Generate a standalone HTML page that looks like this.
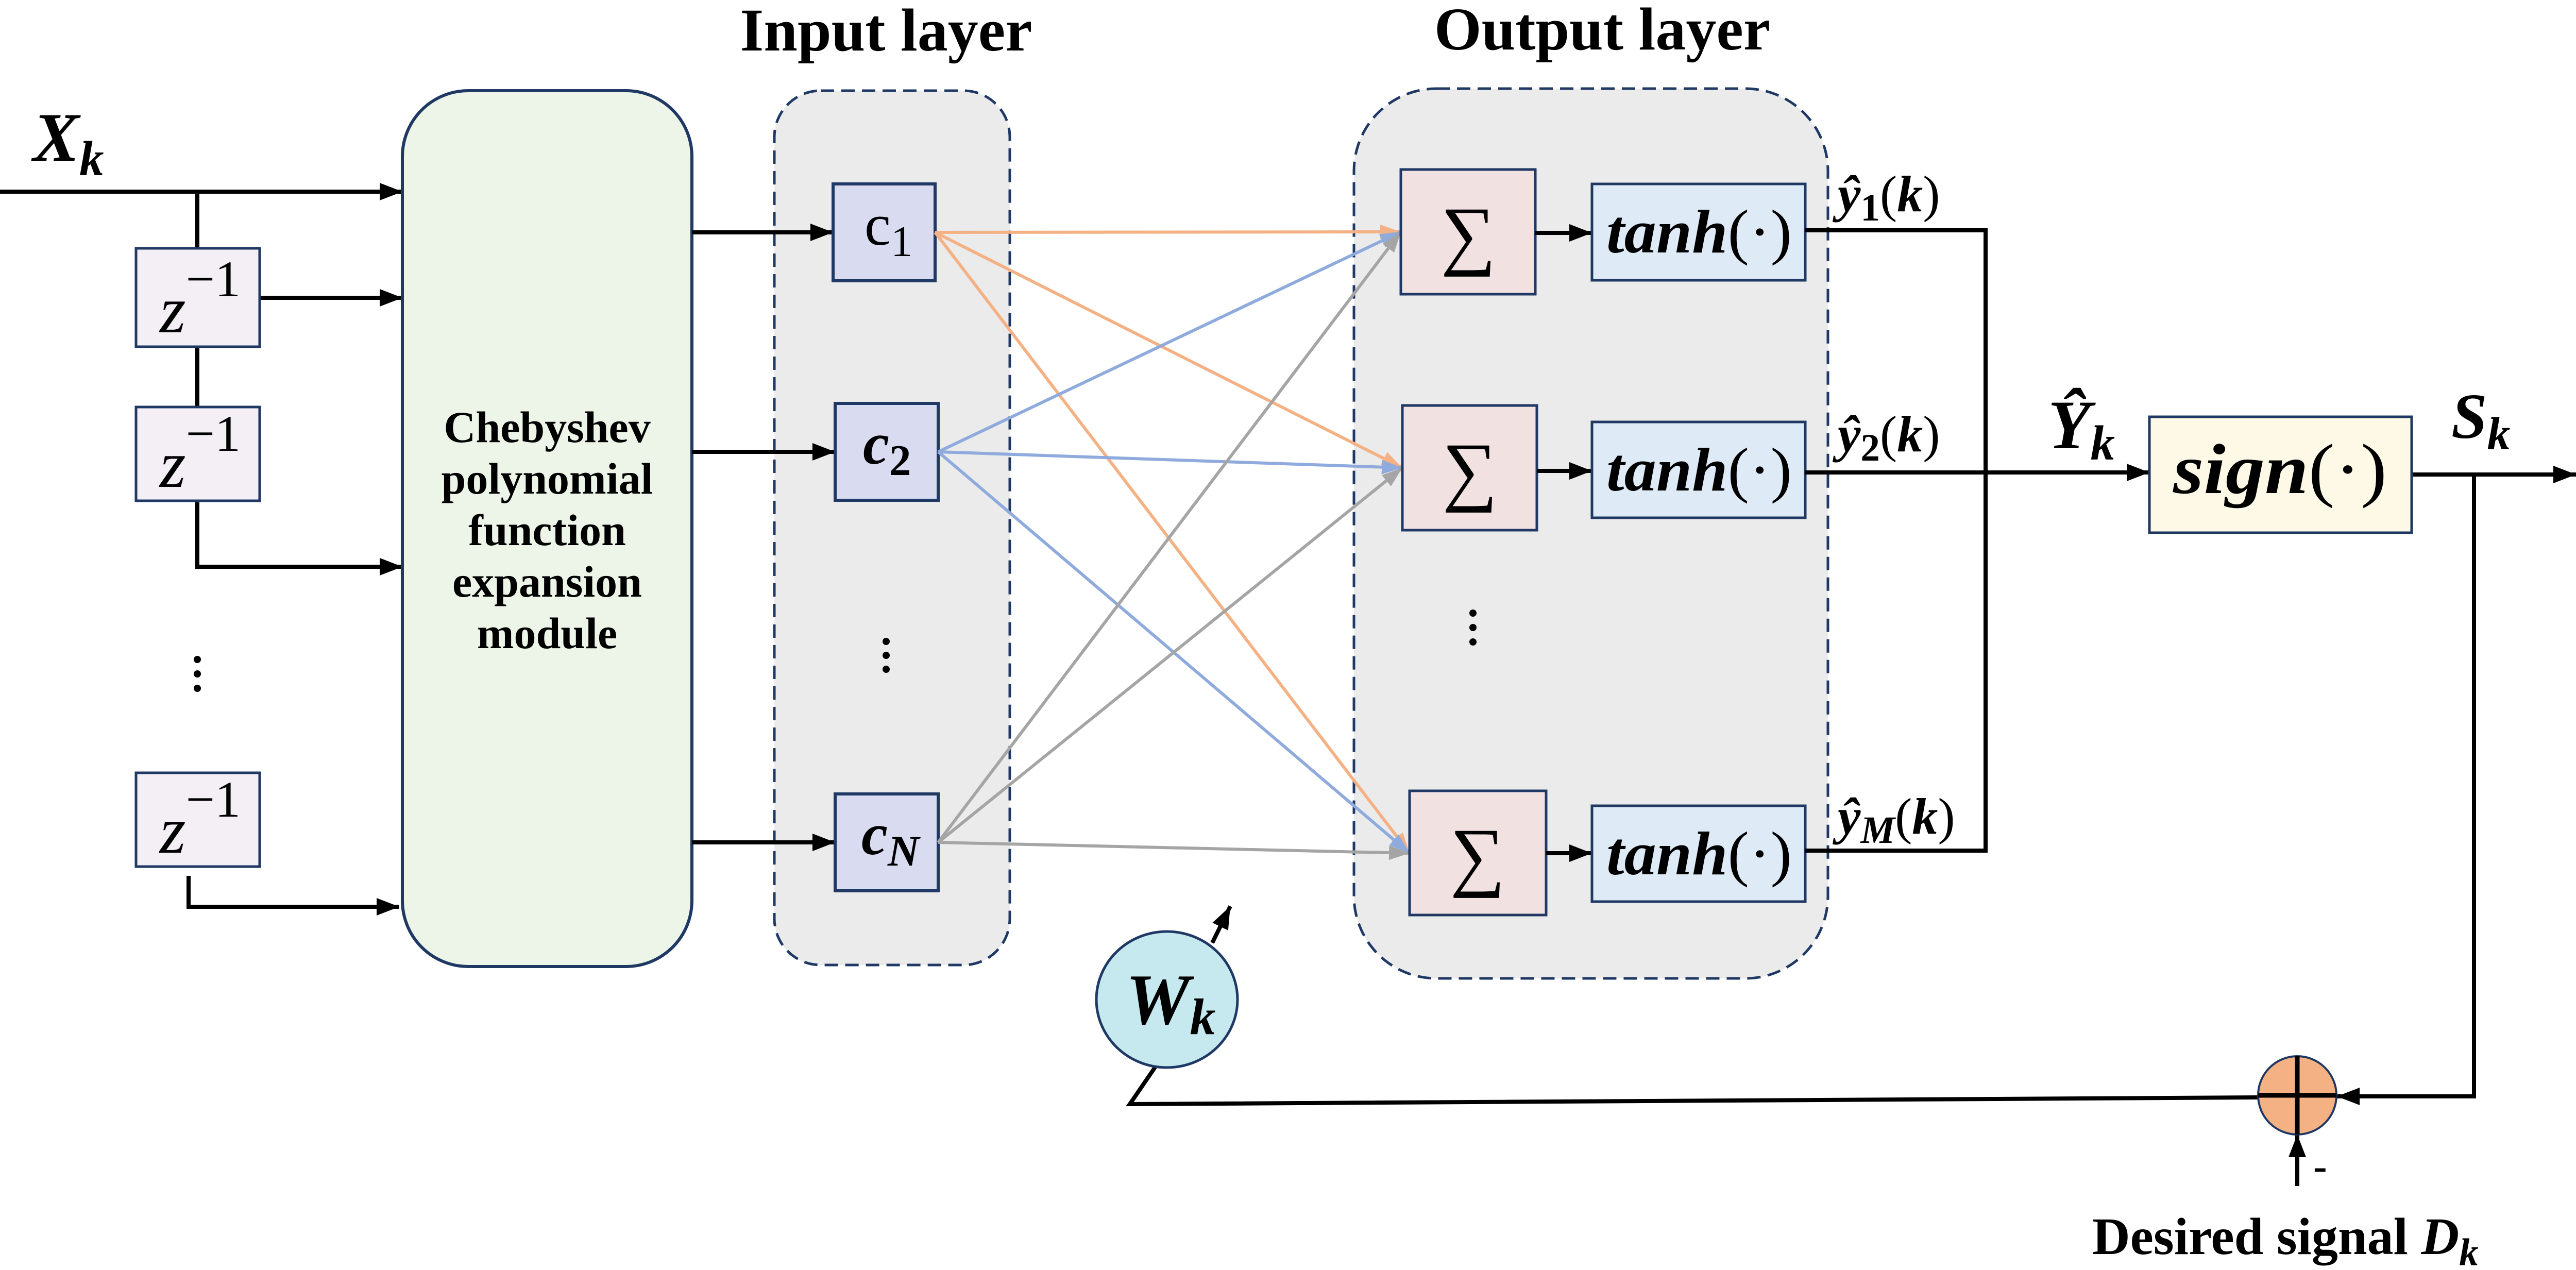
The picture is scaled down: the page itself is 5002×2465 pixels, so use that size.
<!DOCTYPE html>
<html><head><meta charset="utf-8"><style>
html,body{margin:0;padding:0;background:#fff;}
svg{display:block;}
svg text, svg tspan{font-family:"Liberation Serif","DejaVu Serif",serif !important;}
.b{font-weight:bold;}
.bi{font-weight:bold;font-style:italic;}
</style></head><body>
<svg width="5002" height="2465" viewBox="0 0 5002 2465" xmlns="http://www.w3.org/2000/svg" font-family="'Liberation Serif', 'DejaVu Serif', serif">
<defs>
<marker id="ak" markerUnits="userSpaceOnUse" markerWidth="50" markerHeight="40" refX="44" refY="17" orient="auto"><path d="M0,0 L44,17 L0,34 z" fill="#000"/></marker>
<marker id="ao" markerUnits="userSpaceOnUse" markerWidth="50" markerHeight="40" refX="40" refY="14" orient="auto"><path d="M0,0 L40,14 L0,28 z" fill="#f4b183"/></marker>
<marker id="ab" markerUnits="userSpaceOnUse" markerWidth="50" markerHeight="40" refX="40" refY="14" orient="auto"><path d="M0,0 L40,14 L0,28 z" fill="#8faadc"/></marker>
<marker id="ag" markerUnits="userSpaceOnUse" markerWidth="50" markerHeight="40" refX="40" refY="14" orient="auto"><path d="M0,0 L40,14 L0,28 z" fill="#a5a5a5"/></marker>
</defs>

<rect x="1503" y="176" width="457" height="1697" rx="90" fill="#ebebeb" stroke="#1f3864" stroke-width="5" stroke-dasharray="26,14"/>
<rect x="2628" y="172" width="920" height="1727" rx="160" fill="#ebebeb" stroke="#1f3864" stroke-width="5" stroke-dasharray="26,14"/>

<text x="1720" y="98" font-size="118" class="b" text-anchor="middle">Input layer</text>
<text x="3110" y="96" font-size="118" class="b" text-anchor="middle">Output layer</text>

<text x="64" y="312" font-size="135" class="bi">X<tspan font-size="95" dy="28">k</tspan></text>

<g stroke="#000" stroke-width="8" fill="none">
<line x1="0" y1="372" x2="781" y2="372" marker-end="url(#ak)"/>
<line x1="383" y1="372" x2="383" y2="482"/>
<line x1="383" y1="673" x2="383" y2="790"/>
<line x1="504" y1="578" x2="781" y2="578" marker-end="url(#ak)"/>
<polyline points="383,972 383,1100 781,1100" marker-end="url(#ak)"/>
<polyline points="366,1700 366,1760 775,1760" marker-end="url(#ak)"/>
</g>
<g fill="#000"><circle cx="383" cy="1280" r="7"/><circle cx="383" cy="1308" r="7"/><circle cx="383" cy="1336" r="7"/></g>

<g fill="#f3eff5" stroke="#1f3864" stroke-width="5">
<rect x="264" y="482" width="240" height="191"/>
<rect x="264" y="790" width="240" height="182"/>
<rect x="264" y="1500" width="240" height="182"/>
</g>
<g font-size="130">
<text x="310" y="645" font-style="italic">z<tspan font-size="100" dy="-70" font-style="normal">−1</tspan></text>
<text x="310" y="945" font-style="italic">z<tspan font-size="100" dy="-70" font-style="normal">−1</tspan></text>
<text x="310" y="1655" font-style="italic">z<tspan font-size="100" dy="-70" font-style="normal">−1</tspan></text>
</g>

<rect x="781" y="176" width="562" height="1700" rx="128" fill="#edf5e8" stroke="#1f3864" stroke-width="6"/>
<g font-size="86" class="b" text-anchor="middle">
<text x="1062" y="858">Chebyshev</text>
<text x="1062" y="958">polynomial</text>
<text x="1062" y="1058">function</text>
<text x="1062" y="1158">expansion</text>
<text x="1062" y="1258">module</text>
</g>

<g stroke="#000" stroke-width="8">
<line x1="1343" y1="451" x2="1617" y2="451" marker-end="url(#ak)"/>
<line x1="1343" y1="877" x2="1621" y2="877" marker-end="url(#ak)"/>
<line x1="1343" y1="1635" x2="1621" y2="1635" marker-end="url(#ak)"/>
</g>

<g fill="#d9dcf0" stroke="#1f3864" stroke-width="6">
<rect x="1617" y="357" width="198" height="188"/>
<rect x="1621" y="783" width="200" height="188"/>
<rect x="1621" y="1541" width="200" height="188"/>
</g>
<text x="1678" y="475" font-size="115">c<tspan font-size="85" dy="22">1</tspan></text>
<text x="1675" y="900" font-size="115" class="bi">c<tspan font-size="85" dy="22" font-style="normal">2</tspan></text>
<text x="1672" y="1658" font-size="115" class="bi">c<tspan font-size="85" dy="22">N</tspan></text>
<g fill="#000"><circle cx="1720" cy="1245" r="7"/><circle cx="1720" cy="1272" r="7"/><circle cx="1720" cy="1299" r="7"/></g>

<g stroke-width="6" fill="none">
<line x1="1815" y1="451" x2="2719" y2="450" stroke="#f4b183" marker-end="url(#ao)"/>
<line x1="1815" y1="451" x2="2722" y2="908" stroke="#f4b183" marker-end="url(#ao)"/>
<line x1="1815" y1="451" x2="2736" y2="1656" stroke="#f4b183" marker-end="url(#ao)"/>
<line x1="1821" y1="877" x2="2719" y2="450" stroke="#8faadc" marker-end="url(#ab)"/>
<line x1="1821" y1="877" x2="2722" y2="908" stroke="#8faadc" marker-end="url(#ab)"/>
<line x1="1821" y1="877" x2="2736" y2="1656" stroke="#8faadc" marker-end="url(#ab)"/>
<line x1="1821" y1="1635" x2="2719" y2="450" stroke="#a5a5a5" marker-end="url(#ag)"/>
<line x1="1821" y1="1635" x2="2722" y2="908" stroke="#a5a5a5" marker-end="url(#ag)"/>
<line x1="1821" y1="1635" x2="2736" y2="1656" stroke="#a5a5a5" marker-end="url(#ag)"/>
</g>

<g fill="#f2e1e1" stroke="#1f3864" stroke-width="5">
<rect x="2719" y="329" width="261" height="242"/>
<rect x="2722" y="787" width="261" height="242"/>
<rect x="2736" y="1535" width="265" height="241"/>
</g>
<g font-size="150" text-anchor="middle">
<text x="2850" y="505">∑</text>
<text x="2853" y="963">∑</text>
<text x="2868" y="1711">∑</text>
</g>
<g stroke="#000" stroke-width="8">
<line x1="2980" y1="452" x2="3090" y2="452" marker-end="url(#ak)"/>
<line x1="2983" y1="914" x2="3090" y2="914" marker-end="url(#ak)"/>
<line x1="3001" y1="1656" x2="3090" y2="1656" marker-end="url(#ak)"/>
</g>
<g fill="#000"><circle cx="2859" cy="1190" r="7"/><circle cx="2859" cy="1218" r="7"/><circle cx="2859" cy="1246" r="7"/></g>

<g fill="#deebf7" stroke="#1f3864" stroke-width="5">
<rect x="3090" y="357" width="414" height="187"/>
<rect x="3090" y="819" width="414" height="186"/>
<rect x="3090" y="1564" width="414" height="186"/>
</g>
<g font-size="120">
<text x="3118" y="490" class="bi" textLength="360" lengthAdjust="spacingAndGlyphs">tanh<tspan font-weight="normal" font-style="normal">(·)</tspan></text>
<text x="3118" y="952" class="bi" textLength="360" lengthAdjust="spacingAndGlyphs">tanh<tspan font-weight="normal" font-style="normal">(·)</tspan></text>
<text x="3118" y="1697" class="bi" textLength="360" lengthAdjust="spacingAndGlyphs">tanh<tspan font-weight="normal" font-style="normal">(·)</tspan></text>
</g>

<g stroke="#000" stroke-width="8" fill="none">
<polyline points="3504,447 3854,447 3854,1651 3504,1651"/>
<line x1="3504" y1="917" x2="4172" y2="917" marker-end="url(#ak)"/>
<line x1="4681" y1="921" x2="5000" y2="921" marker-end="url(#ak)"/>
<polyline points="4802,921 4802,2128 4536,2128" marker-end="url(#ak)"/>
<polyline points="4383,2130 2193,2143 2243,2070"/>
<line x1="2353" y1="1830" x2="2388" y2="1759" marker-end="url(#ak)"/>
<line x1="4459" y1="2302" x2="4459" y2="2202" marker-end="url(#ak)"/>
</g>
<g font-size="100" class="bi">
<text x="3567" y="410">ŷ<tspan font-size="75" dy="18" font-style="normal">1</tspan><tspan dy="-18" font-style="normal" font-weight="normal">(</tspan>k<tspan font-style="normal" font-weight="normal">)</tspan></text>
<text x="3567" y="876">ŷ<tspan font-size="75" dy="18" font-style="normal">2</tspan><tspan dy="-18" font-style="normal" font-weight="normal">(</tspan>k<tspan font-style="normal" font-weight="normal">)</tspan></text>
<text x="3567" y="1618">ŷ<tspan font-size="75" dy="18">M</tspan><tspan dy="-18" font-style="normal" font-weight="normal">(</tspan>k<tspan font-style="normal" font-weight="normal">)</tspan></text>
</g>
<text x="3975" y="870" font-size="135" class="bi">Ŷ<tspan font-size="95" dy="22">k</tspan></text>
<text x="4758" y="850" font-size="125" class="bi">S<tspan font-size="90" dy="22">k</tspan></text>

<rect x="4172" y="809" width="509" height="225" fill="#fef9e6" stroke="#1f3864" stroke-width="5"/>
<text x="4218" y="957" font-size="138" class="bi" textLength="415" lengthAdjust="spacingAndGlyphs">sign<tspan font-weight="normal" font-style="normal">(·)</tspan></text>

<circle cx="4459" cy="2126" r="76" fill="#f4b183" stroke="#1f3864" stroke-width="4"/>
<g stroke="#000" stroke-width="9">
<line x1="4383" y1="2126" x2="4535" y2="2126"/>
<line x1="4459" y1="2050" x2="4459" y2="2202"/>
</g>
<text x="4490" y="2290" font-size="80" class="b">-</text>
<text x="4061" y="2434" font-size="102" class="b">Desired signal <tspan font-style="italic">D<tspan font-size="75" dy="22">k</tspan></tspan></text>

<ellipse cx="2265" cy="1940" rx="137" ry="132" fill="#c5e9ee" stroke="#1f3864" stroke-width="5"/>
<text x="2185" y="1987" font-size="140" class="bi">W<tspan font-size="100" dy="20">k</tspan></text>
</svg>
</body></html>
